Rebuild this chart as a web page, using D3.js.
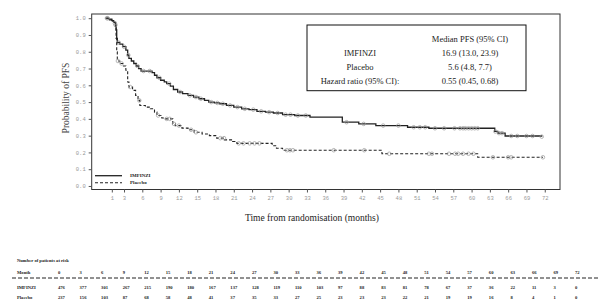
<!DOCTYPE html>
<html>
<head>
<meta charset="utf-8">
<script src="https://cdn.jsdelivr.net/npm/d3@7"></script>
<style>
  body { margin: 0; background: #fff; }
  svg { display: block; }
</style>
</head>
<body>
<svg id="chart" width="600" height="308"></svg>
<script>
// KM step data (months, probability)
var imfTime = [0, 0.5, 1.0, 1.3, 1.6, 1.7, 1.8, 1.9, 2.3, 2.8, 3.3, 3.6, 3.8, 4.2, 4.6, 5.0, 5.4, 5.8, 7.6, 8.0, 8.4, 9.0, 9.6, 10.0, 10.6, 11.1, 11.8, 12.6, 13.5, 14.4, 15.3, 16.2, 16.9, 17.8, 18.7, 19.8, 21.0, 22.3, 23.5, 24.8, 26.2, 27.5, 29.0, 31.0, 33.5, 38.8, 41.5, 44.3, 49.5, 53.0, 63.8, 64.3, 65.5, 71.5];
var imfSurv = [1.0, 0.995, 0.985, 0.975, 0.96, 0.93, 0.88, 0.855, 0.845, 0.83, 0.81, 0.78, 0.76, 0.745, 0.73, 0.715, 0.70, 0.685, 0.675, 0.66, 0.645, 0.63, 0.62, 0.61, 0.595, 0.575, 0.56, 0.55, 0.54, 0.53, 0.52, 0.51, 0.50, 0.495, 0.49, 0.48, 0.47, 0.46, 0.455, 0.445, 0.44, 0.435, 0.425, 0.42, 0.41, 0.38, 0.37, 0.36, 0.35, 0.344, 0.325, 0.315, 0.298, 0.294];
var imfCensor = [0.2, 1.6, 2.1, 3.0, 3.7, 5.2, 6.2, 7.2, 8.8, 10.4, 12.2, 13.8, 14.8, 15.6, 17.3, 18.3, 19.2, 20.4, 21.6, 22.8, 24.2, 25.5, 26.8, 28.2, 29.5, 30.3, 31.5, 32.8, 39.5, 42.3, 45.5, 48.0, 50.5, 51.5, 52.4, 54.0, 55.5, 57.2, 58.1, 58.6, 59.0, 59.5, 60.0, 60.5, 61.0, 63.9, 64.5, 65.0, 66.5, 67.5, 69.0, 70.0, 71.5];

var plaTime = [0, 0.6, 1.0, 1.4, 1.6, 1.7, 1.8, 1.9, 2.3, 2.8, 3.3, 3.6, 3.8, 4.4, 4.9, 5.3, 5.6, 6.5, 7.3, 8.0, 8.4, 9.2, 9.8, 11.0, 11.4, 12.5, 13.5, 14.5, 15.8, 17.0, 18.2, 19.5, 20.8, 21.5, 27.3, 28.0, 29.0, 45.3, 61.0, 71.7];
var plaSurv = [1.0, 0.99, 0.98, 0.97, 0.95, 0.88, 0.80, 0.745, 0.73, 0.715, 0.69, 0.62, 0.59, 0.57, 0.54, 0.51, 0.48, 0.47, 0.46, 0.44, 0.42, 0.405, 0.40, 0.37, 0.36, 0.345, 0.335, 0.32, 0.31, 0.30, 0.285, 0.275, 0.265, 0.254, 0.24, 0.225, 0.213, 0.192, 0.171, 0.171];
var plaCensor = [0.3, 1.5, 2.0, 2.6, 4.0, 5.5, 8.6, 10.0, 10.5, 11.2, 12.0, 14.0, 14.8, 18.8, 19.4, 21.8, 22.6, 23.6, 24.4, 25.2, 29.7, 30.2, 30.7, 37.4, 42.4, 46.5, 53.0, 53.5, 56.3, 57.3, 57.8, 58.6, 59.5, 60.3, 63.5, 66.0, 66.5, 71.7];

var xTicks = [1, 3, 6, 9, 12, 15, 18, 21, 24, 27, 30, 33, 36, 39, 42, 45, 48, 51, 54, 57, 60, 63, 66, 69, 72];
var yTicks = [0, 0.1, 0.2, 0.3, 0.4, 0.5, 0.6, 0.7, 0.8, 0.9, 1.0];

// summary box
var boxHeader = "Median PFS (95% CI)";
var boxRows = [
  ["IMFINZI", "16.9 (13.0, 23.9)"],
  ["Placebo", "5.6 (4.8, 7.7)"],
  ["Hazard ratio (95% CI):", "0.55 (0.45, 0.68)"]
];

// numbers at risk
var riskMonths = [0, 3, 6, 9, 12, 15, 18, 21, 24, 27, 30, 33, 36, 39, 42, 45, 48, 51, 54, 57, 60, 63, 66, 69, 72];
var riskImf = [476, 377, 301, 267, 215, 190, 180, 167, 137, 128, 119, 110, 103, 97, 88, 83, 81, 78, 67, 37, 36, 22, 11, 3, 0];
var riskPla = [237, 156, 103, 87, 68, 58, 48, 41, 37, 35, 33, 27, 25, 23, 23, 23, 22, 21, 19, 19, 16, 8, 4, 1, 0];

var svg = d3.select("#chart");

var x = d3.scaleLinear().domain([-2.3, 74.5]).range([91.7, 560]);
var y = d3.scaleLinear().domain([-0.021, 1.025]).range([189.5, 14]);

// plot frame
svg.append("rect")
  .attr("x", x.range()[0]).attr("y", y.range()[1])
  .attr("width", x.range()[1] - x.range()[0])
  .attr("height", y.range()[0] - y.range()[1])
  .attr("fill", "none").attr("stroke", "#333").attr("stroke-width", 1);

// axes
var xAxis = svg.append("g")
  .attr("transform", "translate(0," + y.range()[0] + ")")
  .call(d3.axisBottom(x).tickValues(xTicks).tickSize(3).tickSizeOuter(0));
xAxis.select(".domain").remove();
xAxis.selectAll("line").attr("stroke", "#555");
xAxis.selectAll("text").attr("fill", "#999").attr("font-family", "Liberation Mono, monospace").attr("font-size", 5.5).attr("dy", "0.9em");

var yAxis = svg.append("g")
  .attr("transform", "translate(" + x.range()[0] + ",0)")
  .call(d3.axisLeft(y).tickValues(yTicks).tickFormat(d3.format(".1f")).tickSize(3).tickSizeOuter(0));
yAxis.select(".domain").remove();
yAxis.selectAll("line").attr("stroke", "#555");
yAxis.selectAll("text").attr("fill", "#999").attr("font-family", "Liberation Mono, monospace").attr("font-size", 5.5);

svg.append("text")
  .attr("transform", "translate(69,98) rotate(-90)")
  .attr("text-anchor", "middle")
  .attr("font-family", "Liberation Serif, serif").attr("font-size", 9.5).attr("fill", "#444")
  .text("Probability of PFS");

svg.append("text")
  .attr("x", 312).attr("y", 221)
  .attr("text-anchor", "middle")
  .attr("font-family", "Liberation Serif, serif").attr("font-size", 9.5).attr("fill", "#222")
  .text("Time from randomisation (months)");

// curves
var line = d3.line()
  .x(function (d) { return x(d[0]); })
  .y(function (d) { return y(d[1]); })
  .curve(d3.curveStepAfter);

function stepValue(times, surv, t) {
  var i = d3.bisectRight(times, t) - 1;
  return surv[Math.max(0, i)];
}

var series = [
  { name: "IMFINZI", time: imfTime, surv: imfSurv, censor: imfCensor, dash: null, width: 1.3 },
  { name: "Placebo", time: plaTime, surv: plaSurv, censor: plaCensor, dash: "3,2", width: 1.1 }
];

series.forEach(function (s) {
  svg.append("path")
    .datum(d3.zip(s.time, s.surv))
    .attr("d", line)
    .attr("fill", "none")
    .attr("stroke", "#222")
    .attr("stroke-width", s.width)
    .attr("stroke-dasharray", s.dash);

  svg.append("g").selectAll("circle")
    .data(s.censor)
    .enter().append("circle")
    .attr("cx", function (d) { return x(d); })
    .attr("cy", function (d) { return y(stepValue(s.time, s.surv, d)); })
    .attr("r", 1.8)
    .attr("fill", "none")
    .attr("stroke", "#999")
    .attr("stroke-width", 0.7);
});

// inner legend (bottom left)
var leg = svg.append("g")
  .selectAll("g")
  .data(series)
  .enter().append("g")
  .attr("transform", function (d, i) { return "translate(95," + (175.7 + i * 7) + ")"; });

leg.append("line")
  .attr("x2", 27)
  .attr("stroke", "#222")
  .attr("stroke-width", function (d) { return d.width; })
  .attr("stroke-dasharray", function (d) { return d.dash; });

leg.append("text")
  .attr("x", 35).attr("dy", "0.35em")
  .attr("font-family", "Liberation Serif, serif").attr("font-size", 5).attr("font-weight", "bold").attr("fill", "#222")
  .text(function (d) { return d.name; });

// summary box
var box = svg.append("g").attr("transform", "translate(307,25)");
box.append("rect")
  .attr("width", 219).attr("height", 65.7)
  .attr("fill", "#fff").attr("stroke", "#111").attr("stroke-width", 1);

box.append("text")
  .attr("x", 163).attr("y", 17)
  .attr("text-anchor", "middle")
  .attr("font-family", "Liberation Serif, serif").attr("font-size", 8.5).attr("fill", "#222")
  .text(boxHeader);

var bRow = box.selectAll(".brow")
  .data(boxRows)
  .enter().append("g")
  .attr("class", "brow")
  .attr("transform", function (d, i) { return "translate(0," + (30.7 + i * 14) + ")"; });

bRow.append("text")
  .attr("x", 53).attr("text-anchor", "middle")
  .attr("font-family", "Liberation Serif, serif").attr("font-size", 8.5).attr("fill", "#222")
  .text(function (d) { return d[0]; });

bRow.append("text")
  .attr("x", 163).attr("text-anchor", "middle")
  .attr("font-family", "Liberation Serif, serif").attr("font-size", 8.5).attr("fill", "#222")
  .text(function (d) { return d[1]; });

// numbers at risk table
var col = d3.scalePoint().domain(riskMonths).range([58, 575]);
var tfont = function (sel) {
  sel.attr("font-family", "Liberation Serif, serif").attr("font-size", 4.6).attr("font-weight", "bold").attr("fill", "#222");
};

svg.append("text").attr("x", 17).attr("y", 261.5).call(tfont).text("Number of patients at risk");

var rows = [
  { label: "Month", values: riskMonths, y: 273.5 },
  { label: "IMFINZI", values: riskImf, y: 288.5 },
  { label: "Placebo", values: riskPla, y: 299 }
];

rows.forEach(function (r) {
  svg.append("text").attr("x", 17).attr("y", r.y).call(tfont).text(r.label);
  svg.append("g").selectAll("text")
    .data(r.values)
    .enter().append("text")
    .attr("x", function (d, i) { return col(riskMonths[i]); })
    .attr("y", r.y)
    .call(tfont)
    .text(function (d) { return d; });
});

svg.append("line")
  .attr("x1", 12).attr("x2", 598)
  .attr("y1", 278).attr("y2", 278)
  .attr("stroke", "#222").attr("stroke-width", 1)
  .attr("stroke-dasharray", "4,2");
</script>
</body>
</html>
